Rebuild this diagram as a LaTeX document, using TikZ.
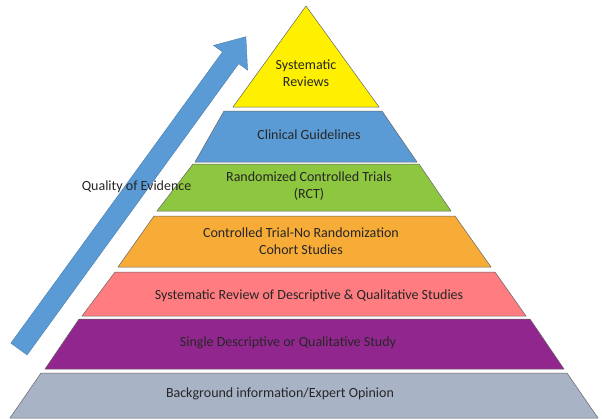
\documentclass[tikz,border=0pt]{standalone}
\usepackage{fontspec}
\setmainfont{Carlito}
\begin{document}
\begin{tikzpicture}[x=1pt,y=-1pt,
  layer/.style={draw=black!60,line width=0.5pt},
  lbl/.style={font=\fontsize{14}{16.5}\selectfont,text=black!85,align=center}]
\useasboundingbox (0,0) rectangle (602,418);
\fill[white] (0,0) rectangle (602,418);
\definecolor{cyel}{RGB}{255,240,0}
\definecolor{cblue}{RGB}{91,155,213}
\definecolor{cgreen}{RGB}{141,198,63}
\definecolor{corange}{RGB}{247,172,56}
\definecolor{cpink}{RGB}{255,124,128}
\definecolor{cpurple}{RGB}{146,38,143}
\definecolor{cgray}{RGB}{168,180,198}
\fill[layer,fill=cyel] (306,6) -- (379,107) -- (233,107) -- cycle;
\fill[layer,fill=cblue] (224,111) -- (382,111) -- (417,162) -- (195,162) -- cycle;
\fill[layer,fill=cgreen] (193,164) -- (419,164) -- (451,211) -- (157,211) -- cycle;
\fill[layer,fill=corange] (154,216) -- (455,216) -- (491,267) -- (118,267) -- cycle;
\fill[layer,fill=cpink] (115,272) -- (495,272) -- (526,316) -- (82,316) -- cycle;
\fill[layer,fill=cpurple] (79,319) -- (530,319) -- (564,369) -- (45,369) -- cycle;
\fill[layer,fill=cgray] (41,373) -- (567,373) -- (598,418) -- (10,418) -- cycle;
\node[lbl] (l1) at (306,73) {Systematic\\Reviews};
\node[lbl] (l2) at (309,135) {Clinical Guidelines};
\node[lbl] (l3) at (309,186) {Randomized Controlled Trials\\(RCT)};
\node[lbl] (l4) at (301,241) {Controlled Trial-No Randomization\\Cohort Studies};
\node[lbl] (l5) at (309,296) {Systematic Review of Descriptive \& Qualitative Studies};
\node[lbl] (l6) at (288,343) {Single Descriptive or Qualitative Study};
\node[lbl] (l7) at (280,394) {Background information/Expert Opinion};
\begin{scope}[shift={(19,349)},rotate=54]
\fill[draw=cblue!80!black,line width=0.4pt,fill=cblue]
  (0,-10) -- (360,-10) -- (360,-21) -- (386,0) -- (360,21) -- (360,10) -- (0,10) -- cycle;
\node[lbl,text=black!85] (q) at (200,0) {Quality of Evidence};
\end{scope}
\end{tikzpicture}
\end{document}
